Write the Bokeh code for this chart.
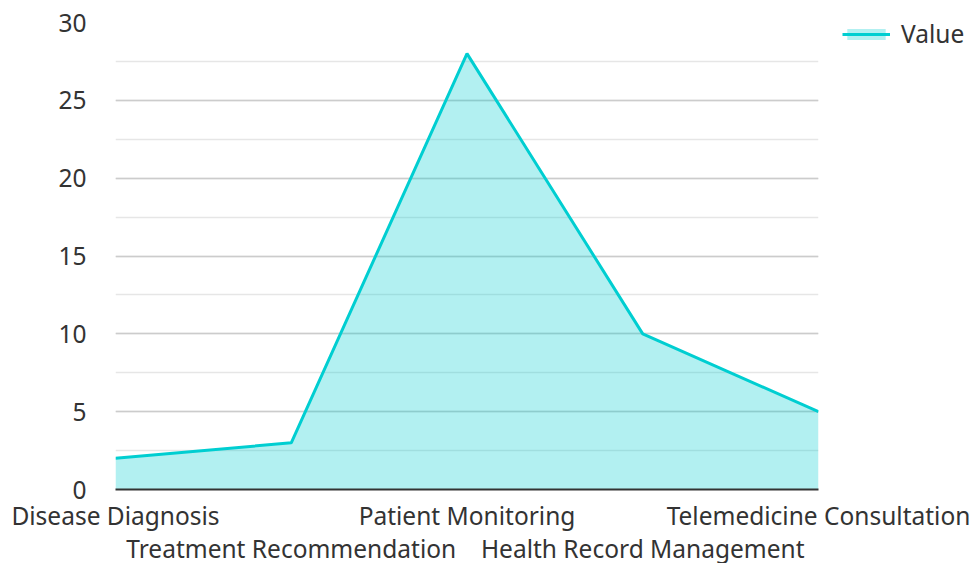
from bokeh.plotting import figure
from bokeh.models import (ColumnDataSource, Legend, LegendItem, FixedTicker, LinearAxis,
                          SingleIntervalTicker, Range1d)
from bokeh.embed import file_html
from bokeh.resources import INLINE

categories = ["Disease Diagnosis", "Treatment Recommendation", "Patient Monitoring",
              "Health Record Management", "Telemedicine Consultation"]
values = [2, 3, 28, 10, 5]
series_name = "Value"

FONT = "Noto Sans"
FS = "24.5px"
LINE_COLOR = "#00CED1"
TEXT_COLOR = "#333333"

xs = list(range(len(categories)))
src = ColumnDataSource(dict(x=xs, y=values, y0=[0] * len(values)))

p = figure(frame_width=703, frame_height=467, output_backend="svg",
           toolbar_location=None, x_range=Range1d(0, len(categories) - 1),
           y_range=Range1d(0, 30), min_border_left=115, min_border_top=22,
           min_border_bottom=10, min_border_right=150, x_axis_location=None)
p.outline_line_color = None
p.background_fill_color = "white"

# grids
p.xgrid.grid_line_color = None
p.yaxis.ticker = SingleIntervalTicker(interval=5, num_minor_ticks=2)
p.ygrid.grid_line_color = "#cccccc"
p.ygrid.grid_line_width = 1.5
p.ygrid.minor_grid_line_color = "#e6e6e6"
p.ygrid.minor_grid_line_width = 1.5

# y axis
p.yaxis.axis_line_color = None
p.yaxis.major_tick_line_color = None
p.yaxis.minor_tick_line_color = None
p.yaxis.major_label_text_font = FONT
p.yaxis.major_label_text_font_size = FS
p.yaxis.major_label_text_color = TEXT_COLOR
p.yaxis.major_label_standoff = 23

# x axes: two rows of category labels
even = [i for i in xs if i % 2 == 0]
odd = [i for i in xs if i % 2 == 1]
ax1 = LinearAxis(ticker=FixedTicker(ticks=even),
                 major_label_overrides={i: categories[i] for i in even})
ax2 = LinearAxis(ticker=FixedTicker(ticks=odd),
                 major_label_overrides={i: categories[i] for i in odd})
for ax, lc, so in ((ax1, "#333333", 9), (ax2, None, -3)):
    ax.axis_line_color = lc
    ax.axis_line_width = 2
    ax.major_tick_line_color = None
    ax.minor_tick_line_color = None
    ax.major_tick_out = 0
    ax.major_label_text_font = FONT
    ax.major_label_text_font_size = FS
    ax.major_label_text_color = TEXT_COLOR
    ax.major_label_standoff = so
    p.add_layout(ax, "below")

area = p.varea(x="x", y1="y0", y2="y", source=src, fill_color=LINE_COLOR, fill_alpha=0.3)
line = p.line(x="x", y="y", source=src, line_color=LINE_COLOR, line_width=3)

legend = Legend(items=[LegendItem(label=series_name, renderers=[area, line])],
                location=(24, 439), orientation="vertical")
legend.label_text_font = FONT
legend.label_text_font_size = FS
legend.label_text_color = TEXT_COLOR
legend.glyph_width = 48
legend.glyph_height = 14
legend.label_standoff = 11
legend.padding = 0
legend.margin = 0
legend.spacing = 0
legend.border_line_color = None
legend.background_fill_alpha = 0
legend.label_height = 24
p.add_layout(legend, "right")

open("out.html", "w").write(file_html(p, INLINE))
